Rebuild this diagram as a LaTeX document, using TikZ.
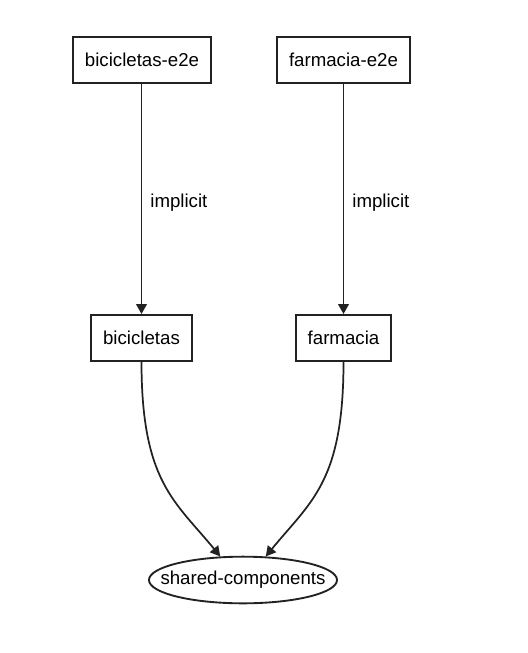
\documentclass[tikz,border=0pt]{standalone}
\usepackage{fontspec}
\setmainfont{Liberation Sans}
\usetikzlibrary{arrows.meta, positioning, shapes.geometric}
\definecolor{edgedark}{HTML}{222222}

\begin{document}
\begin{tikzpicture}[
  x=0.75pt, y=0.75pt,
  font=\fontsize{14pt}{16pt}\selectfont,
  pkg/.style={draw=edgedark, rectangle, line width=1.4pt, align=center,
              minimum height=34.5pt, inner xsep=9pt, fill=white},
  shared/.style={draw=edgedark, ellipse, line width=1.4pt,
                 minimum height=35pt, inner xsep=-12pt, inner ysep=0pt},
  arrow/.style={-{Triangle[length=7.5pt, width=8pt]}, line width=1.3pt, draw=edgedark},
  lbl/.style={right, inner sep=0pt, xshift=6pt, yshift=-3pt}
]
\useasboundingbox (0,0) rectangle (528,-653);

% ---------------- Entry points ----------------
\node[pkg] (bicie2e) at (142,-60)   {bicicletas-e2e};
\node[pkg] (farme2e) at (343.5,-60) {farmacia-e2e};

% ---------------- Apps ----------------
\node[pkg] (bici) at (141.5,-338) {bicicletas};
\node[pkg] (farm) at (343.5,-338) {farmacia};

% ---------------- Shared ----------------
\node[shared] (comp) at (243,-580) {shared-components};

% ---------------- Arrows ----------------
\draw[arrow] (bicie2e.south -| bici.south) -- node[lbl] {implicit} (bici.north);
\draw[arrow] (farme2e.south -| farm.south) -- node[lbl] {implicit} (farm.north);

\draw[arrow] (bici.south) .. controls +(0,-120) and +(-45,55) .. (comp.134);
\draw[arrow] (farm.south) .. controls +(0,-120) and +(45,55) .. (comp.46);

\end{tikzpicture}
\end{document}
